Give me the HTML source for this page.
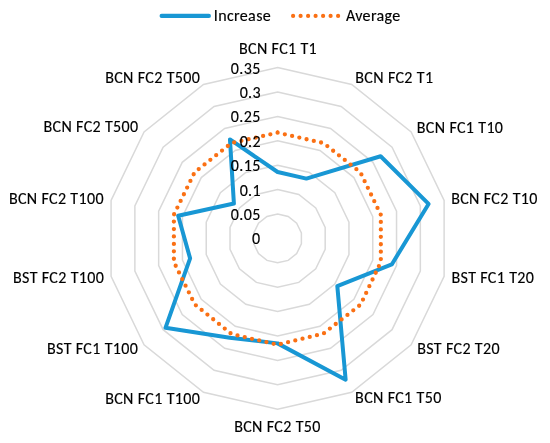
<!DOCTYPE html>
<html><head><meta charset="utf-8"><style>
html,body{margin:0;padding:0;background:#fff;}
svg{display:block;}
text{font-family:"Carlito","Liberation Sans",sans-serif;font-size:16px;letter-spacing:0.35px;fill:#000;stroke:#000;stroke-width:0.15px;}
</style></head><body>
<svg width="550" height="443" viewBox="0 0 550 443">
<rect width="550" height="443" fill="#fff"/>
<g fill="none" stroke="#d9d9d9" stroke-width="1.5">
<polygon points="277.60,214.00 288.19,216.42 296.68,223.19 301.39,232.97 301.39,243.83 296.68,253.61 288.19,260.38 277.60,262.80 267.01,260.38 258.52,253.61 253.81,243.83 253.81,232.97 258.52,223.19 267.01,216.42" />
<polygon points="277.60,189.60 298.77,194.43 315.75,207.97 325.18,227.54 325.18,249.26 315.75,268.83 298.77,282.37 277.60,287.20 256.43,282.37 239.45,268.83 230.02,249.26 230.02,227.54 239.45,207.97 256.43,194.43" />
<polygon points="277.60,165.20 309.36,172.45 334.83,192.76 348.96,222.11 348.96,254.69 334.83,284.04 309.36,304.35 277.60,311.60 245.84,304.35 220.37,284.04 206.24,254.69 206.24,222.11 220.37,192.76 245.84,172.45" />
<polygon points="277.60,140.80 319.95,150.47 353.91,177.55 372.75,216.68 372.75,260.12 353.91,299.25 319.95,326.33 277.60,336.00 235.25,326.33 201.29,299.25 182.45,260.12 182.45,216.68 201.29,177.55 235.25,150.47" />
<polygon points="277.60,116.40 330.53,128.48 372.98,162.33 396.54,211.25 396.54,265.55 372.98,314.47 330.53,348.32 277.60,360.40 224.67,348.32 182.22,314.47 158.66,265.55 158.66,211.25 182.22,162.33 224.67,128.48" />
<polygon points="277.60,92.00 341.12,106.50 392.06,147.12 420.33,205.82 420.33,270.98 392.06,329.68 341.12,370.30 277.60,384.80 214.08,370.30 163.14,329.68 134.87,270.98 134.87,205.82 163.14,147.12 214.08,106.50" />
<polygon points="277.60,67.60 351.71,84.51 411.14,131.91 444.12,200.39 444.12,276.41 411.14,344.89 351.71,392.29 277.60,409.20 203.49,392.29 144.06,344.89 111.08,276.41 111.08,200.39 144.06,131.91 203.49,84.51" />
</g>
<polygon points="277.60,171.98 306.40,178.60 380.61,156.25 428.56,203.94 391.78,264.46 337.31,286.02 345.63,379.67 277.60,343.37 229.75,337.77 165.47,327.82 190.11,258.37 178.17,215.70 233.91,203.56 229.96,139.47" fill="none" stroke="#1897d4" stroke-width="4" stroke-linejoin="round"/>
<polygon points="277.60,132.70 323.50,143.08 360.39,172.37 380.84,214.84 380.84,261.96 360.62,304.61 323.44,333.59 277.60,344.69 231.53,334.07 194.81,304.43 173.88,262.07 173.88,214.73 194.65,172.25 231.65,142.99" fill="none" stroke="#fa7014" stroke-width="4.3" stroke-linecap="round" stroke-dasharray="0 7.4216" stroke-dashoffset="0"/>
<g>
<text x="239.00" y="54.40">BCN FC1 T1</text>
<text x="355.30" y="83.10">BCN FC2 T1</text>
<text x="416.80" y="132.80">BCN FC1 T10</text>
<text x="451.20" y="203.60">BCN FC2 T10</text>
<text x="451.55" y="283.00">BST FC1 T20</text>
<text x="417.20" y="354.00">BST FC2 T20</text>
<text x="355.10" y="403.40">BCN FC1 T50</text>
<text x="234.20" y="432.00">BCN FC2 T50</text>
<text x="105.20" y="403.60">BCN FC1 T100</text>
<text x="47.00" y="353.80">BST FC1 T100</text>
<text x="13.00" y="283.00">BST FC2 T100</text>
<text x="8.90" y="204.00">BCN FC2 T100</text>
<text x="43.50" y="132.40">BCN FC2 T500</text>
<text x="105.20" y="83.30">BCN FC2 T500</text>
<text x="230.85" y="73.90">0.35</text>
<text x="239.65" y="98.20">0.3</text>
<text x="230.85" y="122.40">0.25</text>
<text x="239.65" y="146.80">0.2</text>
<text x="230.85" y="171.20">0.15</text>
<text x="239.65" y="195.60">0.1</text>
<text x="230.85" y="220.00">0.05</text>
<text x="252.10" y="244.20">0</text>
<text x="213.85" y="21.00">Increase</text>
<text x="345.90" y="21.00">Average</text>
</g>
<line x1="161.6" y1="15.9" x2="208.9" y2="15.9" stroke="#1897d4" stroke-width="4.1" stroke-linecap="round"/>
<line x1="293.1" y1="15.9" x2="340" y2="15.9" stroke="#fa7014" stroke-width="4.2" stroke-linecap="round" stroke-dasharray="0 7.5"/>
</svg>
</body></html>
